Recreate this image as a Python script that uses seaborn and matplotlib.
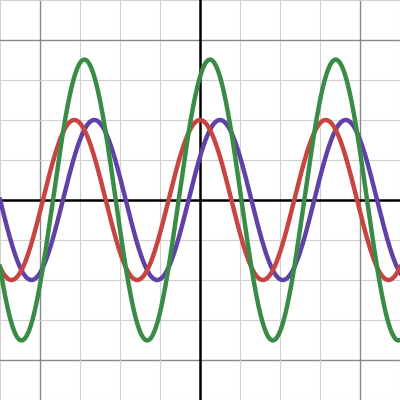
import numpy as np
import matplotlib
matplotlib.use("Agg")
import matplotlib.pyplot as plt
import seaborn as sns
import pandas as pd

names = ["green", "red", "purple"]
colors = ["#388c46", "#c74440", "#6042a6"]
# y = A*cos(k*x - p)
amplitudes = [2 * 2 * np.cos(0.5), 2.0, 2.0]
freqs = [2.0, 2.0, 2.0]
phases = [0.5, 0.0, 1.0]

x = np.linspace(-5, 5, 1500)
rows = []
for n, a, k, p in zip(names, amplitudes, freqs, phases):
    rows.append(pd.DataFrame({"x": x, "y": a * np.cos(k * x - p), "s": n}))
df = pd.concat(rows)

fig = plt.figure(figsize=(4, 4), dpi=100)
ax = fig.add_axes([0, 0, 1, 1])
for v in range(-5, 6):
    major = v % 4 == 0 and v != 0
    c = "#888888" if major else "#d0d0d0"
    lw = 1.0 if major else 0.8
    ax.axvline(v, color=c, lw=lw, zorder=0)
    ax.axhline(v, color=c, lw=lw, zorder=0)
ax.axvline(0, color="black", lw=1.8, zorder=1)
ax.axhline(0, color="black", lw=1.8, zorder=1)
sns.lineplot(data=df, x="x", y="y", hue="s", hue_order=["purple", "red", "green"],
             palette={n: c for n, c in zip(names, colors)}, lw=3.2, legend=False,
             ax=ax, sort=False, estimator=None, zorder=3)
ax.set_xlim(-5, 5)
ax.set_ylim(-5, 5)
ax.axis("off")
fig.savefig("out.png", dpi=100)
